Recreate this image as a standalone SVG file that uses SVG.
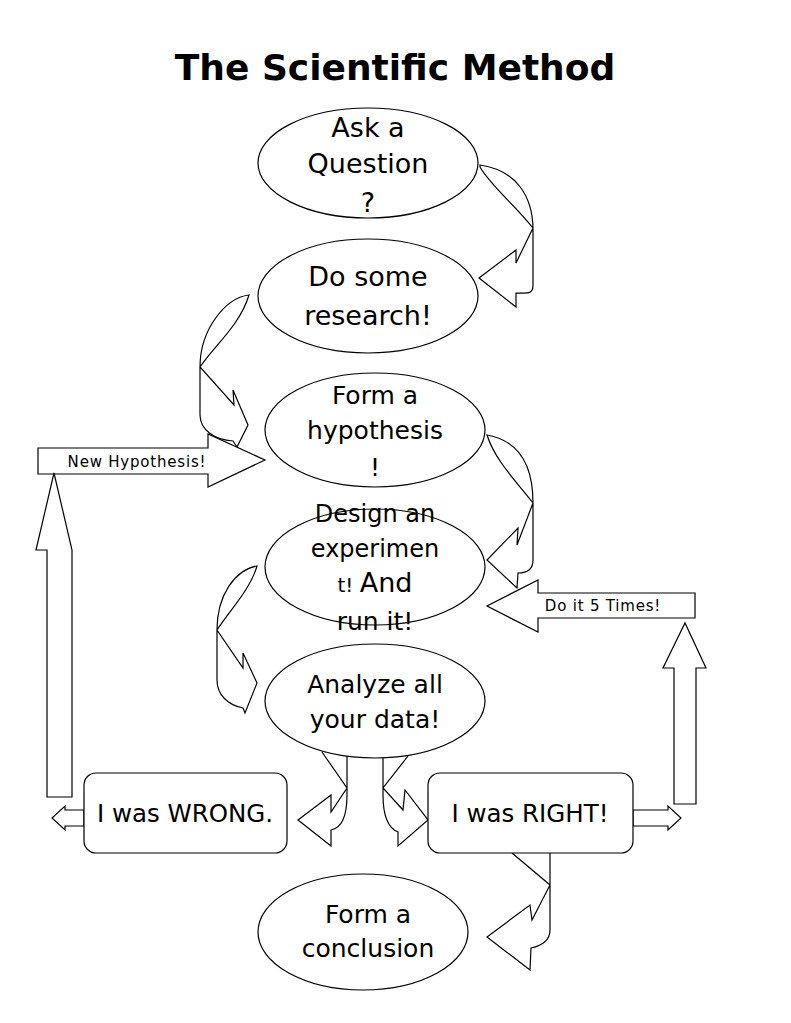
<svg xmlns="http://www.w3.org/2000/svg" width="791" height="1023" viewBox="0 0 791 1023">
<style>
.s{fill:#fff;stroke:#000;stroke-width:1.2;stroke-linejoin:miter}
.t{font-family:"DejaVu Sans",sans-serif;fill:#000;text-anchor:middle}
</style>
<rect width="791" height="1023" fill="#fff"/>
<text class="t" x="395" y="80" font-size="36" font-weight="bold">The Scientific Method</text>
<g id="connectors">
<path class="s" d="M480,165 C515,170 533,195 533,230 L533,285 C533,295 527,293 516,293 L516,307 L479,278 L516,250 L516,263 L533,228 C515,205 490,185 480,167 Z"/>
<path class="s" d="M249,295 C225,298 200,330 200,367 L200,415 C200,430 215,440 233,441 L237,447 L248,425 L233,390 L234,405 L200,367 C215,345 240,325 249,295 Z"/>
<path class="s" d="M487,435 C515,440 533,460 533,503 L533,560 C533,570 527,573 518,573 L517,588 L487,560 L518,528 L517,545 L533,503 C515,480 495,460 487,435 Z"/>
<path class="s" d="M257,566 C235,570 217,595 217,630 L217,680 C217,695 228,705 243,708 L245,713 L257,683 L243,653 L243,668 L217,630 C230,610 250,590 257,566 Z"/>
<path class="s" d="M347,752 L347,795 C347,815 342,828 331,830 L331,846 L298,820 L331,795 L331,812 L347,788 L322,752"/>
<path class="s" d="M383,752 L383,795 C383,815 388,828 398,832 L398,846 L428,820 L405,790 L403,810 L383,788 L408,756"/>
<path class="s" d="M550,853 L550,930 C550,938 545,945 531,948 L530,970 L487,937 L530,905 L532,920 L550,885 L512,853"/>
<path class="s" d="M38,448 L208,448 L208,434 L265,460 L208,487 L208,474 L38,474 Z"/>
<path class="s" d="M695,593 L538,593 L538,580 L487,606 L538,632 L538,618 L695,618 Z"/>
<path class="s" d="M47,797 L47,550 L36,550 L54,473 L72,550 L72,797 Z"/>
<path class="s" d="M674,804 L674,668 L663,668 L685,623 L706,668 L696,668 L696,804 Z"/>
<path class="s" d="M84,810 L65,810 L65,806 L52,818 L65,830 L65,826 L84,826 Z"/>
<path class="s" d="M633,810 L668,810 L668,806 L681,818 L668,830 L668,826 L633,826 Z"/>
<text class="t" x="137" y="467" font-size="15" letter-spacing="0.8">New Hypothesis!</text>
<text class="t" x="603" y="611" font-size="15" letter-spacing="0.8">Do it 5 Times!</text>
</g>
<g id="ask"><ellipse class="s" cx="368" cy="163" rx="110" ry="55"/>
<text class="t" font-size="27"><tspan x="368" y="137">Ask a</tspan><tspan x="368" y="173">Question</tspan><tspan x="368" y="212">?</tspan></text></g>
<g id="research"><ellipse class="s" cx="368" cy="296" rx="110" ry="57"/>
<text class="t" font-size="27"><tspan x="368" y="286">Do some</tspan><tspan x="368" y="325">research!</tspan></text></g>
<g id="hypothesis"><ellipse class="s" cx="375" cy="430" rx="110" ry="57"/>
<text class="t" font-size="25"><tspan x="375" y="404">Form a</tspan><tspan x="375" y="439">hypothesis</tspan><tspan x="375" y="476">!</tspan></text></g>
<g id="design"><ellipse class="s" cx="375" cy="567" rx="110" ry="58"/>
<text class="t" font-size="24"><tspan x="375" y="522">Design an</tspan><tspan x="375" y="557">experimen</tspan></text>
<text class="t" y="592" x="375"><tspan font-size="20">t! </tspan><tspan font-size="27">And</tspan></text>
<text class="t" font-size="25" x="375" y="630">run it!</text></g>
<g id="analyze"><ellipse class="s" cx="375" cy="701" rx="110" ry="57"/>
<text class="t" font-size="25"><tspan x="375" y="693">Analyze all</tspan><tspan x="375" y="728">your data!</tspan></text></g>
<g id="wrong"><rect class="s" x="84" y="773" width="203" height="80" rx="12"/>
<text class="t" font-size="24.5" x="185" y="822">I was WRONG.</text></g>
<g id="right"><rect class="s" x="428" y="773" width="205" height="80" rx="12"/>
<text class="t" font-size="24.5" x="530" y="822">I was RIGHT!</text></g>
<g id="conclusion"><ellipse class="s" cx="363" cy="932" rx="105" ry="58"/>
<text class="t" font-size="25"><tspan x="368" y="923">Form a</tspan><tspan x="368" y="957">conclusion</tspan></text></g>
</svg>
